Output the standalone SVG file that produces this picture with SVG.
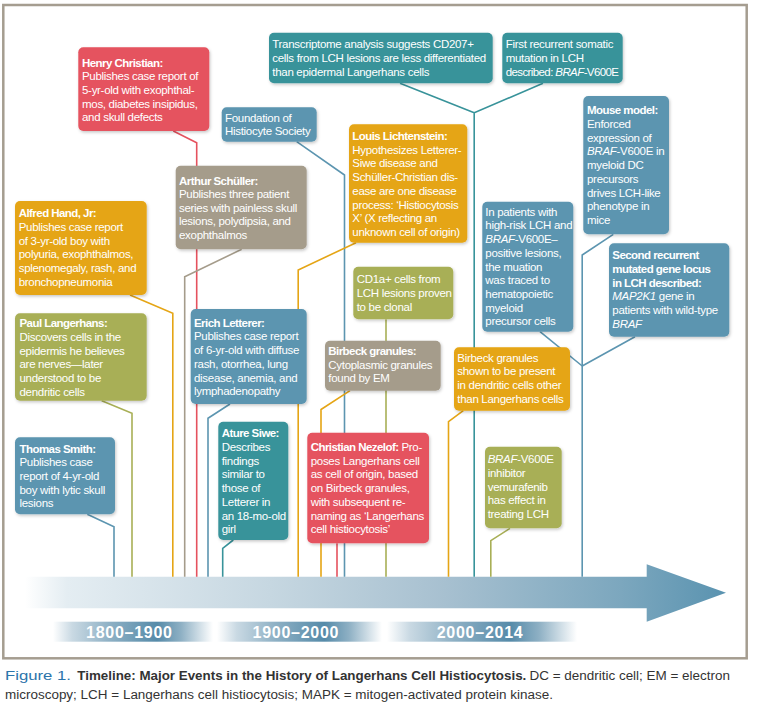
<svg xmlns="http://www.w3.org/2000/svg" width="757" height="704" viewBox="0 0 757 704">
<defs>
<style>
text{font-family:"Liberation Sans",Arial,sans-serif;font-size:11.5px;fill:#fff;letter-spacing:-0.3px}
.b{font-weight:bold;letter-spacing:-0.55px}
.i{font-style:italic}
.tight{letter-spacing:-0.6px}
.box{filter:url(#sh)}
.red{fill:#e5525e}.teal{fill:#38939a}.blue{fill:#5c95b0}.gray{fill:#a59c8b}.orange{fill:#e5a515}.green{fill:#a8af56}
.c{fill:none;stroke-width:1.6}
.cred{stroke:#e5525e}.cteal{stroke:#38939a}.cblue{stroke:#5c95b0}.cgray{stroke:#a59c8b}.corange{stroke:#e5a515}.cgreen{stroke:#a8af56}
.period{font-size:16px;font-weight:bold;letter-spacing:0;text-anchor:middle}
.cap{fill:#333;font-size:12px;letter-spacing:0}
</style>
<filter id="sh" x="-10%" y="-10%" width="130%" height="130%">
<feDropShadow dx="1" dy="1.5" stdDeviation="1.5" flood-color="#000" flood-opacity="0.22"/>
</filter>
<linearGradient id="arrowGrad" gradientUnits="userSpaceOnUse" x1="25" y1="0" x2="726" y2="0">
<stop offset="0" stop-color="#ffffff"/>
<stop offset="0.06" stop-color="#e4edf2"/>
<stop offset="0.35" stop-color="#c6d7e1"/>
<stop offset="0.6" stop-color="#a7c0d0"/>
<stop offset="0.85" stop-color="#7ca7be"/>
<stop offset="1" stop-color="#5a93b0"/>
</linearGradient>
<linearGradient id="periodGrad" x1="0" y1="0" x2="1" y2="0">
<stop offset="0" stop-color="#ffffff"/>
<stop offset="0.12" stop-color="#c9d9e3"/>
<stop offset="0.35" stop-color="#8fb1c5"/>
<stop offset="0.65" stop-color="#568ba9"/>
<stop offset="0.8" stop-color="#8eb0c4"/>
<stop offset="1" stop-color="#ffffff"/>
</linearGradient>
</defs>

<rect x="3.3" y="5" width="743.4" height="653.3" fill="#fff" stroke="#a59d90" stroke-width="2.5"/>

<g id="timeline">
<path d="M25,576.7 L646.7,576.7 L646.7,564.3 L726,592.7 L646.7,621.7 L646.7,608.3 L25,608.3 Z" fill="url(#arrowGrad)"/>
<rect x="53" y="621.7" width="160" height="20" fill="url(#periodGrad)"/>
<rect x="217" y="621.7" width="165" height="20" fill="url(#periodGrad)"/>
<rect x="387" y="621.7" width="190" height="20" fill="url(#periodGrad)"/>
<text class="period" x="129" y="637.8" textLength="86">1800–1900</text>
<text class="period" x="295.5" y="637.8" textLength="86">1900–2000</text>
<text class="period" x="479.7" y="637.8" textLength="86">2000–2014</text>
</g>

<g id="connectors">
<path class="c cred" d="M173.3,131 L196.7,142.7 L196.7,576.7"/>
<path class="c cblue" d="M296.7,141.7 L344.5,175 L344.5,576.7"/>
<path class="c cteal" d="M400,83.3 L474.2,112.7 M543,83.3 L474.2,112.7 L474.2,576.7"/>
<path class="c cgray" d="M241.7,249.3 L184.7,276.7 L184.7,576.7"/>
<path class="c corange" d="M130,295 L172.8,313.3 L172.8,576.7"/>
<path class="c cgreen" d="M101.7,400.7 L132,413.3 L132,576.7"/>
<path class="c cblue" d="M87.3,514.3 L114,526.7 L114,576.7"/>
<path class="c cblue" d="M230,404 L208,418.3 L208,576.7"/>
<path class="c cteal" d="M233.3,540 L222.7,548.3 L222.7,576.7"/>
<path class="c corange" d="M356,242.7 L298.2,270 L298.2,576.7"/>
<path class="c cgreen" d="M386,319.3 L386,576.7"/>
<path class="c corange" d="M350,390.7 L321,409.5 L321,576.7"/>
<path class="c cred" d="M337,543.3 L337,576.7"/>
<path class="c corange" d="M463.3,410.7 L448.5,421.7 L448.5,576.7"/>
<path class="c cgreen" d="M510,528.3 L490.8,540.7 L490.8,576.7"/>
<path class="c cblue" d="M613.3,234.3 L582.2,255 L582.2,576.7"/>
<path class="c cblue" d="M635,336.7 L582.2,366 M540,331.7 L582.2,366"/>
</g>

<g id="henry-christian">
<rect class="box red" x="78.3" y="47.3" width="131" height="83.7" rx="5"/>
<text x="82" y="66.5"><tspan class="b">Henry Christian:</tspan><tspan x="82" y="80.2">Publishes case report of</tspan><tspan x="82" y="93.9">5-yr-old with exophthal-</tspan><tspan x="82" y="107.6">mos, diabetes insipidus,</tspan><tspan x="82" y="121.3">and skull defects</tspan></text>
</g>

<g id="histiocyte-society">
<rect class="box blue" x="221.7" y="107.3" width="95" height="34.4" rx="5"/>
<text x="225" y="121.5">Foundation of<tspan x="225" y="135">Histiocyte Society</tspan></text>
</g>

<g id="transcriptome">
<rect class="box teal" x="269" y="32.7" width="223.7" height="50.6" rx="5"/>
<text x="272.3" y="48.3">Transcriptome analysis suggests CD207+<tspan x="272.3" y="62">cells from LCH lesions are less differentiated</tspan><tspan x="272.3" y="75.7">than epidermal Langerhans cells</tspan></text>
</g>

<g id="first-recurrent">
<rect class="box teal" x="502.3" y="32.7" width="120.4" height="50.6" rx="5"/>
<text x="505.7" y="48.3">First recurrent somatic<tspan x="505.7" y="62">mutation in LCH</tspan><tspan class="tight" x="505.7" y="75.7">described: <tspan class="i">BRAF</tspan>-V600E</tspan></text>
</g>

<g id="arthur-schuller">
<rect class="box gray" x="175.7" y="165.7" width="131" height="83.6" rx="5"/>
<text x="179" y="184.5"><tspan class="b">Arthur Schüller:</tspan><tspan x="179" y="198">Publishes three patient</tspan><tspan x="179" y="211.6">series with painless skull</tspan><tspan x="179" y="225.2">lesions, polydipsia, and</tspan><tspan x="179" y="238.8">exophthalmos</tspan></text>
</g>

<g id="louis-lichtenstein">
<rect class="box orange" x="349" y="124.3" width="118.3" height="118.4" rx="5"/>
<text x="352.3" y="140"><tspan class="b">Louis Lichtenstein:</tspan><tspan x="352.3" y="153.7">Hypothesizes Letterer-</tspan><tspan x="352.3" y="167.4">Siwe disease and</tspan><tspan x="352.3" y="181.1">Schüller-Christian dis-</tspan><tspan x="352.3" y="194.8">ease are one disease</tspan><tspan x="352.3" y="208.5">process: ‘Histiocytosis</tspan><tspan x="352.3" y="222.2">X’ (X reflecting an</tspan><tspan x="352.3" y="235.9">unknown cell of origin)</tspan></text>
</g>

<g id="mouse-model">
<rect class="box blue" x="583.3" y="96" width="85.7" height="138.3" rx="5"/>
<text x="587" y="114.3"><tspan class="b">Mouse model:</tspan><tspan x="587" y="128">Enforced</tspan><tspan x="587" y="141.7">expression of</tspan><tspan x="587" y="155.4"><tspan class="i">BRAF</tspan>-V600E in</tspan><tspan x="587" y="169.1">myeloid DC</tspan><tspan x="587" y="182.8">precursors</tspan><tspan x="587" y="196.5">drives LCH-like</tspan><tspan x="587" y="210.2">phenotype in</tspan><tspan x="587" y="223.9">mice</tspan></text>
</g>

<g id="alfred-hand">
<rect class="box orange" x="15" y="201" width="131.7" height="94" rx="5"/>
<text x="18.7" y="217.3"><tspan class="b">Alfred Hand, Jr:</tspan><tspan x="18.7" y="231">Publishes case report</tspan><tspan x="18.7" y="244.7">of 3-yr-old boy with</tspan><tspan x="18.7" y="258.4">polyuria, exophthalmos,</tspan><tspan x="18.7" y="272.1">splenomegaly, rash, and</tspan><tspan x="18.7" y="285.8">bronchopneumonia</tspan></text>
</g>

<g id="in-patients">
<rect class="box blue" x="482.3" y="201.7" width="91" height="130" rx="5"/>
<text x="485.3" y="215.7">In patients with<tspan x="485.3" y="229.4">high-risk LCH and</tspan><tspan x="485.3" y="243.1"><tspan class="i">BRAF</tspan>-V600E–</tspan><tspan x="485.3" y="256.8">positive lesions,</tspan><tspan x="485.3" y="270.5">the muation</tspan><tspan x="485.3" y="284.2">was traced to</tspan><tspan x="485.3" y="297.9">hematopoietic</tspan><tspan x="485.3" y="311.6">myeloid</tspan><tspan x="485.3" y="325.3">precursor cells</tspan></text>
</g>

<g id="second-recurrent">
<rect class="box blue" x="609" y="243.3" width="120.3" height="93.4" rx="5"/>
<text x="612.3" y="259.3"><tspan class="b">Second recurrent</tspan><tspan class="b" x="612.3" y="273">mutated gene locus</tspan><tspan class="b" x="612.3" y="286.7">in LCH described:</tspan><tspan x="612.3" y="300.4"><tspan class="i">MAP2K1</tspan> gene in</tspan><tspan x="612.3" y="314.1">patients with wild-type</tspan><tspan class="i" x="612.3" y="327.8">BRAF</tspan></text>
</g>

<g id="cd1a-clonal">
<rect class="box green" x="353.3" y="266.7" width="100" height="52.6" rx="5"/>
<text x="356.7" y="283.3">CD1a+ cells from<tspan x="356.7" y="297">LCH lesions proven</tspan><tspan x="356.7" y="310.7">to be clonal</tspan></text>
</g>

<g id="paul-langerhans">
<rect class="box green" x="15" y="313.3" width="131.7" height="87.4" rx="5"/>
<text x="19.5" y="327.3"><tspan class="b">Paul Langerhans:</tspan><tspan x="19.5" y="341">Discovers cells in the</tspan><tspan x="19.5" y="354.7">epidermis he believes</tspan><tspan x="19.5" y="368.4">are nerves—later</tspan><tspan x="19.5" y="382.1">understood to be</tspan><tspan x="19.5" y="395.8">dendritic cells</tspan></text>
</g>

<g id="erich-letterer">
<rect class="box blue" x="190.7" y="309" width="116" height="95" rx="5"/>
<text x="194" y="326.7"><tspan class="b">Erich Letterer:</tspan><tspan x="194" y="340.4">Publishes case report</tspan><tspan x="194" y="354.1">of 6-yr-old with diffuse</tspan><tspan x="194" y="367.8">rash, otorrhea, lung</tspan><tspan x="194" y="381.5">disease, anemia, and</tspan><tspan x="194" y="395.2">lymphadenopathy</tspan></text>
</g>

<g id="birbeck-granules">
<rect class="box gray" x="325" y="340.7" width="115.7" height="50" rx="5"/>
<text x="328.3" y="355"><tspan class="b">Birbeck granules:</tspan><tspan x="328.3" y="368.7">Cytoplasmic granules</tspan><tspan x="328.3" y="382.4">found by EM</tspan></text>
</g>

<g id="birbeck-dendritic">
<rect class="box orange" x="454" y="347.3" width="116" height="63.4" rx="5"/>
<text x="457.3" y="361.7">Birbeck granules<tspan x="457.3" y="375.4">shown to be present</tspan><tspan x="457.3" y="389.1">in dendritic cells other</tspan><tspan x="457.3" y="402.8">than Langerhans cells</tspan></text>
</g>

<g id="thomas-smith">
<rect class="box blue" x="15" y="437.3" width="100" height="77" rx="5"/>
<text x="19.5" y="452.5"><tspan class="b">Thomas Smith:</tspan><tspan x="19.5" y="466.2">Publishes case</tspan><tspan x="19.5" y="479.9">report of 4-yr-old</tspan><tspan x="19.5" y="493.6">boy with lytic skull</tspan><tspan x="19.5" y="507.3">lesions</tspan></text>
</g>

<g id="ature-siwe">
<rect class="box teal" x="218.3" y="421.7" width="70" height="118.3" rx="5"/>
<text x="221.7" y="437.3"><tspan class="b">Ature Siwe:</tspan><tspan x="221.7" y="451">Describes</tspan><tspan x="221.7" y="464.7">findings</tspan><tspan x="221.7" y="478.4">similar to</tspan><tspan x="221.7" y="492.1">those of</tspan><tspan x="221.7" y="505.8">Letterer in</tspan><tspan x="221.7" y="519.5">an 18-mo-old</tspan><tspan x="221.7" y="533.2">girl</tspan></text>
</g>

<g id="christian-nezelof">
<rect class="box red" x="307.3" y="432.7" width="121.7" height="110.6" rx="5"/>
<text x="310.7" y="451"><tspan class="b">Christian Nezelof:</tspan> Pro-<tspan x="310.7" y="464.7">poses Langerhans cell</tspan><tspan x="310.7" y="478.4">as cell of origin, based</tspan><tspan x="310.7" y="492.1">on Birbeck granules,</tspan><tspan x="310.7" y="505.8">with subsequent re-</tspan><tspan x="310.7" y="519.5">naming as ‘Langerhans</tspan><tspan x="310.7" y="533.2">cell histiocytosis’</tspan></text>
</g>

<g id="braf-inhibitor">
<rect class="box green" x="485" y="446.7" width="76.7" height="81.6" rx="5"/>
<text x="487.7" y="463.3"><tspan class="i">BRAF</tspan>-V600E<tspan x="487.7" y="477">inhibitor</tspan><tspan x="487.7" y="490.7">vemurafenib</tspan><tspan x="487.7" y="504.4">has effect in</tspan><tspan x="487.7" y="518.1">treating LCH</tspan></text>
</g>

<g id="caption">
<text class="cap" x="5" y="680" style="fill:#2b74ab;font-size:13px" textLength="66" lengthAdjust="spacingAndGlyphs">Figure 1.</text>
<text class="cap" x="77.3" y="680" style="font-weight:bold" textLength="449" lengthAdjust="spacingAndGlyphs">Timeline: Major Events in the History of Langerhans Cell Histiocytosis.</text>
<text class="cap" x="529.5" y="680" textLength="200.5" lengthAdjust="spacingAndGlyphs">DC = dendritic cell; EM = electron</text>
<text class="cap" x="5" y="698.5" textLength="548" lengthAdjust="spacingAndGlyphs">microscopy; LCH = Langerhans cell histiocytosis; MAPK = mitogen-activated protein kinase.</text>
</g>
</svg>
